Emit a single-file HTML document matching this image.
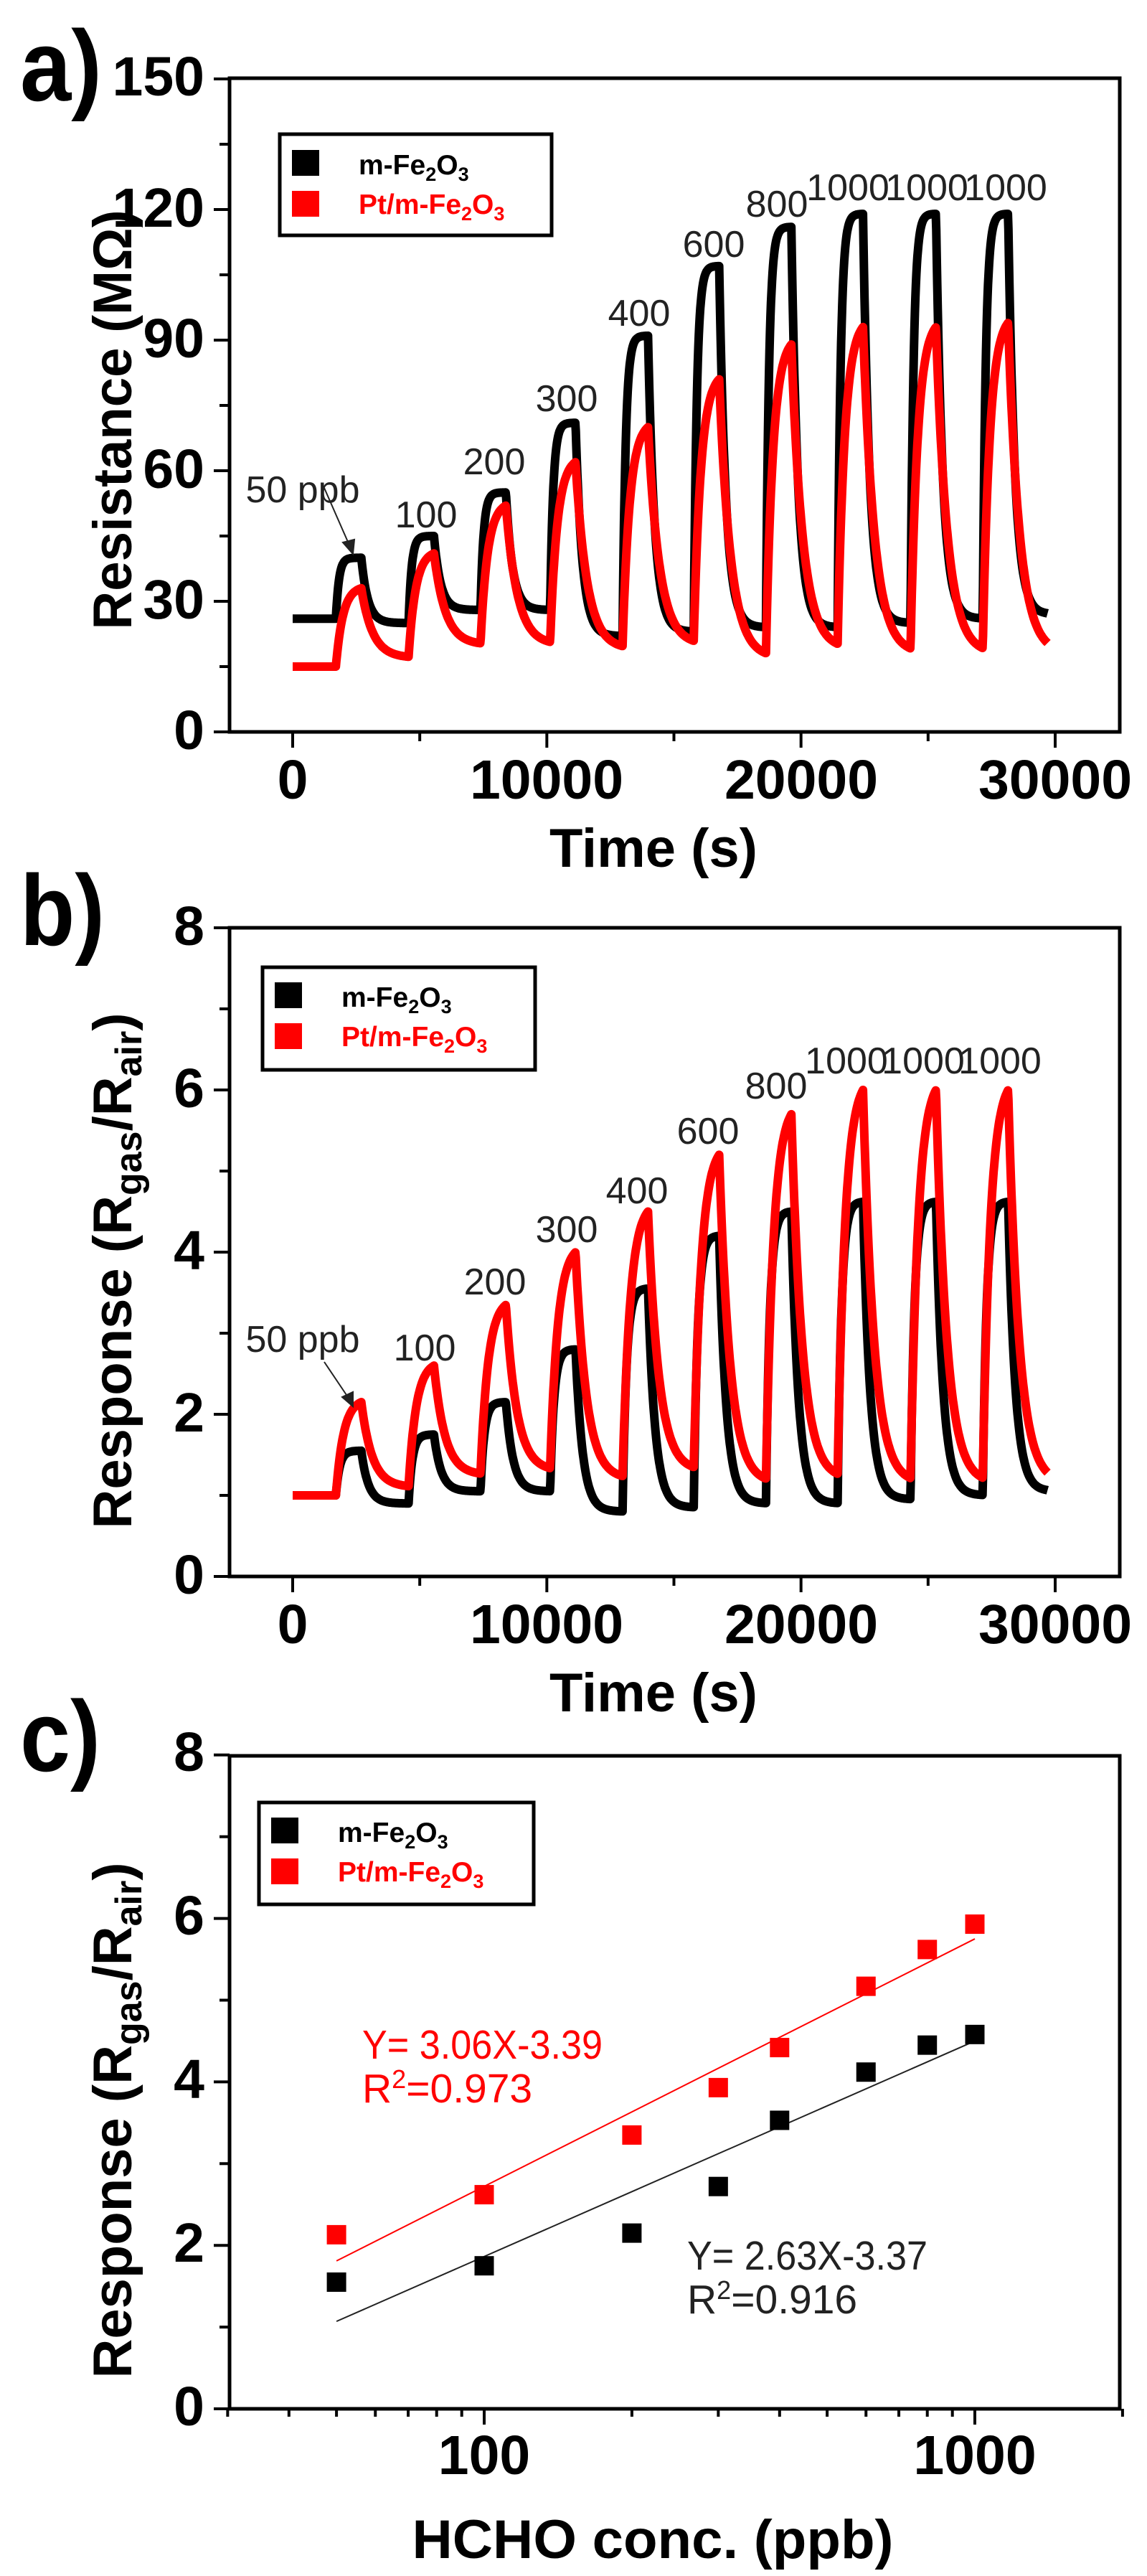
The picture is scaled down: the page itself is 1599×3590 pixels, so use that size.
<!DOCTYPE html>
<html><head><meta charset="utf-8"><style>html,body{margin:0;padding:0;background:#fff}svg{display:block}</style></head>
<body>
<svg id="s" width="1599" height="3590" viewBox="0 0 1599 3590" xmlns="http://www.w3.org/2000/svg" font-family="Liberation Sans, Arial, sans-serif">
<rect width="1599" height="3590" fill="#fff"/>
<g id="curves"></g>
<g id="axes" stroke="#000" stroke-width="5" fill="none"></g>

<g font-weight="bold" font-size="140">
<text x="28" y="140" textLength="114" lengthAdjust="spacingAndGlyphs">a)</text>
<text x="28" y="1317" textLength="118" lengthAdjust="spacingAndGlyphs">b)</text>
<text x="28" y="2468" textLength="112" lengthAdjust="spacingAndGlyphs">c)</text>
</g>

<g font-weight="bold" font-size="77" text-anchor="end">
<text x="285" y="133">150</text><text x="285" y="316">120</text><text x="285" y="498">90</text><text x="285" y="680">60</text><text x="285" y="862">30</text><text x="285" y="1044">0</text>
<text x="285" y="1317">8</text><text x="285" y="1543">6</text><text x="285" y="1769">4</text><text x="285" y="1995">2</text><text x="285" y="2221">0</text>
<text x="285" y="2468">8</text><text x="285" y="2696">6</text><text x="285" y="2924">4</text><text x="285" y="3152">2</text><text x="285" y="3380">0</text>
</g>
<g font-weight="bold" font-size="77" text-anchor="middle">
<text x="408" y="1113">0</text><text x="762" y="1113">10000</text><text x="1117" y="1113">20000</text><text x="1471" y="1113">30000</text>
<text x="408" y="2290">0</text><text x="762" y="2290">10000</text><text x="1117" y="2290">20000</text><text x="1471" y="2290">30000</text>
<text x="675" y="3448">100</text><text x="1359" y="3448">1000</text>
</g>

<g font-weight="bold" font-size="76" text-anchor="middle">
<text x="911" y="1208">Time (s)</text>
<text x="911" y="2385">Time (s)</text>
<text x="910" y="3565" textLength="671" lengthAdjust="spacingAndGlyphs">HCHO conc. (ppb)</text>
<text transform="translate(183,585) rotate(-90)" textLength="585" lengthAdjust="spacingAndGlyphs">Resistance (MΩ)</text>
<text transform="translate(183,1771) rotate(-90)">Response (R<tspan font-size="52" dy="14">gas</tspan><tspan dy="-14">/R</tspan><tspan font-size="52" dy="14">air</tspan><tspan dy="-14">)</tspan></text>
<text transform="translate(183,2955) rotate(-90)">Response (R<tspan font-size="52" dy="14">gas</tspan><tspan dy="-14">/R</tspan><tspan font-size="52" dy="14">air</tspan><tspan dy="-14">)</tspan></text>
</g>

<g id="leg"></g>
<g font-weight="bold" font-size="39">
<text x="500" y="243">m-Fe<tspan font-size="27" dy="9">2</tspan><tspan dy="-9">O</tspan><tspan font-size="27" dy="9">3</tspan></text>
<text x="500" y="298" fill="#f00">Pt/m-Fe<tspan font-size="27" dy="9">2</tspan><tspan dy="-9">O</tspan><tspan font-size="27" dy="9">3</tspan></text>
<text x="476" y="1403">m-Fe<tspan font-size="27" dy="9">2</tspan><tspan dy="-9">O</tspan><tspan font-size="27" dy="9">3</tspan></text>
<text x="476" y="1458" fill="#f00">Pt/m-Fe<tspan font-size="27" dy="9">2</tspan><tspan dy="-9">O</tspan><tspan font-size="27" dy="9">3</tspan></text>
<text x="471" y="2567">m-Fe<tspan font-size="27" dy="9">2</tspan><tspan dy="-9">O</tspan><tspan font-size="27" dy="9">3</tspan></text>
<text x="471" y="2622" fill="#f00">Pt/m-Fe<tspan font-size="27" dy="9">2</tspan><tspan dy="-9">O</tspan><tspan font-size="27" dy="9">3</tspan></text>
</g>

<g font-size="52" text-anchor="middle" fill="#222">
<text x="422" y="700">50 ppb</text>
<text x="594" y="735">100</text><text x="689" y="661">200</text><text x="790" y="573">300</text><text x="891" y="454">400</text><text x="995" y="358">600</text><text x="1083" y="302">800</text>
<text x="1182" y="279">1000</text><text x="1292" y="279">1000</text><text x="1402" y="279">1000</text>
<text x="422" y="1884">50 ppb</text>
<text x="592" y="1896">100</text><text x="690" y="1804">200</text><text x="790" y="1731">300</text><text x="888" y="1677">400</text><text x="987" y="1594">600</text><text x="1082" y="1531">800</text>
<text x="1180" y="1496">1000</text><text x="1287" y="1496">1000</text><text x="1394" y="1496">1000</text>
</g>
<g stroke="#222" stroke-width="2" fill="#222">
<line x1="452" y1="680" x2="488" y2="762"/><polygon points="492,772 478,756 494,752"/>
<line x1="452" y1="1898" x2="487" y2="1950"/><polygon points="492,1960 477,1947 492,1940"/>
</g>

<g font-size="57">
<text x="505" y="2869" fill="#f00" textLength="335" lengthAdjust="spacingAndGlyphs">Y= 3.06X-3.39</text>
<text x="505" y="2930" fill="#f00">R<tspan font-size="36" dy="-20">2</tspan><tspan dy="20">=0.973</tspan></text>
<text x="958" y="3163" fill="#222" textLength="335" lengthAdjust="spacingAndGlyphs">Y= 2.63X-3.37</text>
<text x="958" y="3224" fill="#222">R<tspan font-size="36" dy="-20">2</tspan><tspan dy="20">=0.916</tspan></text>
</g>
</svg>
<script>
(function(){
var NS="http://www.w3.org/2000/svg";
function el(p,tag,attrs){var e=document.createElementNS(NS,tag);for(var k in attrs)e.setAttribute(k,attrs[k]);p.appendChild(e);return e;}
var curves=document.getElementById('curves'),axes=document.getElementById('axes'),leg=document.getElementById('leg');
var X=function(t){return 408+t*0.035433;};
var starts=[1700,4560,7390,10130,12980,15780,18620,21440,24310,27150];
function sim(peaks,bases,b0,tr,tf,D,Y){
  var pts=[],v=b0,t=0,step=20,T=29700;
  var idx=-1,vOn=b0,vOff=b0;
  for(t=0;t<=T;t+=step){
    var k=-1;for(var i=0;i<starts.length;i++){if(t>=starts[i])k=i;}
    if(k<0){v=b0;}
    else{
      var dt=t-starts[k];
      if(dt<=D){
        if(idx!==k){idx=k;vOn=v;}
        v=vOn+(peaks[k]-vOn)*(1-Math.exp(-dt/tr))/(1-Math.exp(-D/tr));
        vOff=v;
      } else {
        v=bases[k]+(vOff-bases[k])*Math.exp(-(dt-D)/tf);
      }
    }
    pts.push(X(t).toFixed(1)+","+Y(v).toFixed(1));
  }
  return pts.join(" ");
}
var Ya=function(v){return 1020-v*182/30;};
var Yb=function(v){return 2197-v*113;};
el(curves,'polyline',{points:sim([40,45,55,71,91,107,116,119,119,119],[25,28,28,22,23,24,24,25,26,27],26,120,260,1000,Ya),fill:'none',stroke:'#000','stroke-width':12,'stroke-linejoin':'round'});
el(curves,'polyline',{points:sim([33,41,52,62,70,81,89,93,93,94],[17,20,20,19,20,17,19,18,18,18],15,280,450,1000,Ya),fill:'none',stroke:'#f00','stroke-width':12,'stroke-linejoin':'round'});
el(curves,'polyline',{points:sim([1.55,1.75,2.15,2.8,3.55,4.2,4.5,4.62,4.62,4.62],[0.9,1.05,1.05,0.8,0.85,0.9,0.9,0.95,1.0,1.05],1.0,150,280,1000,Yb),fill:'none',stroke:'#000','stroke-width':12,'stroke-linejoin':'round'});
el(curves,'polyline',{points:sim([2.15,2.6,3.35,4.0,4.5,5.2,5.7,6.0,6.0,6.0],[1.1,1.25,1.3,1.2,1.3,1.15,1.2,1.15,1.15,1.15],1.0,300,430,1000,Yb),fill:'none',stroke:'#f00','stroke-width':12,'stroke-linejoin':'round'});
var Xc=function(c){return 675+684*(Math.log10(c)-2);};
var Yc=function(v){return 3357-v*113.9;};
el(curves,'line',{x1:Xc(50),y1:Yc(1.07),x2:Xc(1000),y2:Yc(4.5),stroke:'#222','stroke-width':2});
el(curves,'line',{x1:Xc(50),y1:Yc(1.81),x2:Xc(1000),y2:Yc(5.75),stroke:'#f00','stroke-width':2});
var cs=[50,100,200,300,400,600,800,1000];
var bk=[1.55,1.75,2.15,2.72,3.53,4.12,4.45,4.58],rd=[2.13,2.62,3.35,3.93,4.42,5.17,5.62,5.93];
cs.forEach(function(c,i){
  el(curves,'rect',{x:Xc(c)-13.5,y:Yc(bk[i])-13.5,width:27,height:27,fill:'#000'});
  el(curves,'rect',{x:Xc(c)-13.5,y:Yc(rd[i])-13.5,width:27,height:27,fill:'#f00'});
});
function frame(top,bot){el(axes,'rect',{x:320,y:top,width:1241,height:bot-top});}
frame(109,1020);frame(1293,2197);frame(2447,3357);
function tk(x1,y1,x2,y2){el(axes,'line',{x1:x1,y1:y1,x2:x2,y2:y2,'stroke-width':4});}
for(var v=0;v<=150;v+=15){var y=Ya(v);tk(320,y,(v%30==0)?298:306,y);}
for(var t=0;t<=30000;t+=5000){var x=X(t);tk(x,1020,x,(t%10000==0)?1042:1033);}
for(var v=0;v<=8;v++){var y=Yb(v);tk(320,y,(v%2==0)?298:306,y);}
for(var t=0;t<=30000;t+=5000){var x=X(t);tk(x,2197,x,(t%10000==0)?2219:2210);}
for(var v=0;v<=8;v++){var y=Yc(v);tk(320,y,(v%2==0)?298:306,y);}
[30,40,50,60,70,80,90,100,200,300,400,500,600,700,800,900,1000,2000].forEach(function(c){var x=Xc(c);tk(x,3357,x,(c==100||c==1000)?3379:3368);});
function lg(x,y,w,h,sx,sy1,sy2){
  el(leg,'rect',{x:x,y:y,width:w,height:h,fill:'#fff',stroke:'#000','stroke-width':5});
  el(leg,'rect',{x:sx,y:sy1,width:38,height:36,fill:'#000'});
  el(leg,'rect',{x:sx,y:sy2,width:38,height:36,fill:'#f00'});
}
lg(390,187,379,141,407,209,266);
lg(366,1348,380,143,383,1369,1426);
lg(361,2512,383,142,378,2533,2590);
})();
</script>
</body></html>
